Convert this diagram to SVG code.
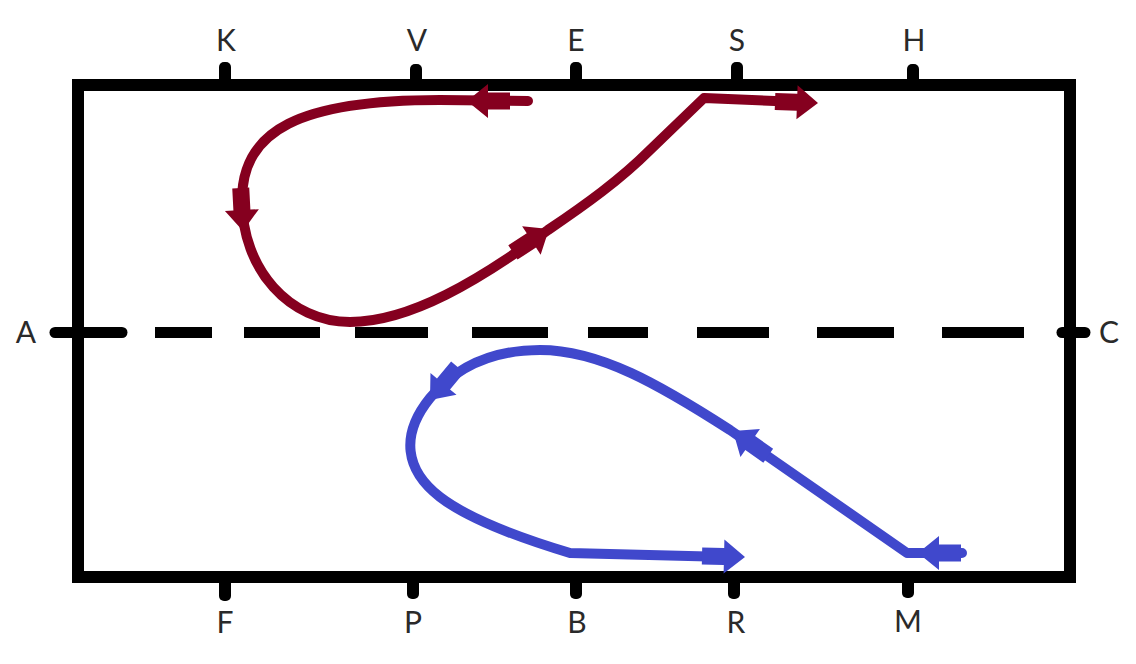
<svg xmlns="http://www.w3.org/2000/svg" xmlns:xlink="http://www.w3.org/1999/xlink" width="1136" height="664" viewBox="0 0 1136 664">
<style>
.lbl{font-family:Lato,"Liberation Sans",sans-serif;font-size:30px;fill:#2a2a2a;text-anchor:middle}
.tick{fill:#000}
.red{fill:none;stroke:#85001F;stroke-width:10;stroke-linecap:round;stroke-linejoin:round}
.blue{fill:none;stroke:#4048CC;stroke-width:10;stroke-linecap:round;stroke-linejoin:round}
.redh{fill:#85001F}
.blueh{fill:#4048CC}
.dash{stroke:#000;stroke-width:11}
</style>
<defs>
<path id="ah" d="M0,0 L-21,-17 L-21,-8.5 L-43,-8.5 L-43,8.5 L-21,8.5 L-21,17 Z"/>
</defs>
<rect width="1136" height="664" fill="#fff"/>
<g id="arena">
<rect x="78" y="85" width="992" height="492" fill="none" stroke="#000" stroke-width="12"/>
</g>
<g id="centerline">
<line class="dash" x1="55" y1="332.5" x2="122" y2="332.5" stroke-linecap="round"/>
<line class="dash" x1="155" y1="332.5" x2="212" y2="332.5"/>
<line class="dash" x1="244" y1="332.5" x2="320" y2="332.5"/>
<line class="dash" x1="355" y1="332.5" x2="428" y2="332.5"/>
<line class="dash" x1="472" y1="332.5" x2="548" y2="332.5"/>
<line class="dash" x1="588" y1="332.5" x2="648" y2="332.5"/>
<line class="dash" x1="697" y1="332.5" x2="769" y2="332.5"/>
<line class="dash" x1="817" y1="332.5" x2="894" y2="332.5"/>
<line class="dash" x1="942" y1="332.5" x2="1024" y2="332.5"/>
<line class="dash" x1="1062" y1="332.5" x2="1085" y2="332.5" stroke-linecap="round"/>
</g>
<g id="marker-K"><rect class="tick" x="219" y="62" width="12" height="26" rx="5"/><text class="lbl" x="226" y="51">K</text></g>
<g id="marker-V"><rect class="tick" x="410" y="64" width="12" height="24" rx="5"/><text class="lbl" x="417" y="51">V</text></g>
<g id="marker-E"><rect class="tick" x="570" y="62" width="12" height="26" rx="5"/><text class="lbl" x="576" y="51">E</text></g>
<g id="marker-S"><rect class="tick" x="731" y="62" width="12" height="26" rx="5"/><text class="lbl" x="737" y="51">S</text></g>
<g id="marker-H"><rect class="tick" x="907" y="64" width="12" height="24" rx="5"/><text class="lbl" x="914" y="51">H</text></g>
<g id="marker-F"><rect class="tick" x="219" y="575" width="12" height="26" rx="5"/><text class="lbl" x="225" y="633">F</text></g>
<g id="marker-P"><rect class="tick" x="407" y="575" width="12" height="24" rx="5"/><text class="lbl" x="413" y="633">P</text></g>
<g id="marker-B"><rect class="tick" x="570" y="575" width="12" height="24" rx="5"/><text class="lbl" x="577" y="633">B</text></g>
<g id="marker-R"><rect class="tick" x="728" y="575" width="12" height="24" rx="5"/><text class="lbl" x="736" y="633">R</text></g>
<g id="marker-M"><rect class="tick" x="902" y="575" width="12" height="23" rx="5"/><text class="lbl" x="908" y="632">M</text></g>
<g id="marker-A"><text class="lbl" x="26" y="343">A</text></g>
<g id="marker-C"><text class="lbl" x="1109" y="343">C</text></g>
<g id="connectors">
<g id="red-route">
<path class="red" d="M528,101 L440,100 C300,100 242,130 242,200 C242,270 290,322 350,322 C410,322 480,280 548,230 C585,205 620,180 650,150 L704,98 L800,102"/>
<use xlink:href="#ah" class="redh" transform="translate(467,101) rotate(180)"/>
<use xlink:href="#ah" class="redh" transform="translate(243,231) rotate(87)"/>
<use xlink:href="#ah" class="redh" transform="translate(549,229) rotate(-33)"/>
<use xlink:href="#ah" class="redh" transform="translate(818,103) rotate(2)"/>
</g>
<g id="blue-route">
<path class="blue" d="M962,553 L907,553 L730,430 C660,385 600,350 540,350 C490,350 455,368 430,398 C400,435 405,470 440,497 C470,520 520,538 570,553 L728,557"/>
<use xlink:href="#ah" class="blueh" transform="translate(918,553) rotate(180)"/>
<use xlink:href="#ah" class="blueh" transform="translate(733,431) rotate(215)"/>
<use xlink:href="#ah" class="blueh" transform="translate(430,400) rotate(130)"/>
<use xlink:href="#ah" class="blueh" transform="translate(745,557) rotate(1.3)"/>
</g>
</g>
</svg>
